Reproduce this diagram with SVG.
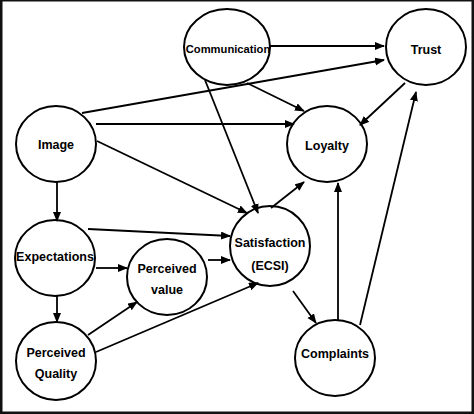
<svg xmlns="http://www.w3.org/2000/svg" width="474" height="414" viewBox="0 0 474 414">
<style>
.n{fill:#fff;stroke:#000;stroke-width:2}
.t{font-family:"Liberation Sans",Arial,sans-serif;font-weight:bold;font-size:12.5px;fill:#000;text-anchor:middle}
.c line{stroke:#000;stroke-width:1.8;marker-end:url(#ah)}
</style>
<defs>
<marker id="ah" markerUnits="userSpaceOnUse" markerWidth="11" markerHeight="9" refX="9" refY="4" orient="auto">
<path d="M0,0 L10,4 L0,8 z" fill="#000"/>
</marker>
</defs>
<rect x="0" y="0" width="474" height="414" fill="#111"/>
<rect x="2.5" y="1.5" width="469" height="410" fill="#fff"/>
<g id="nodes">
<g id="communication"><ellipse class="n" cx="227" cy="47" rx="43" ry="38"/><text class="t" x="228" y="53" style="font-size:11.2px">Communication</text></g>
<g id="trust"><ellipse class="n" cx="426" cy="47" rx="40" ry="38"/><text class="t" x="426" y="54">Trust</text></g>
<g id="image"><ellipse class="n" cx="56" cy="144" rx="40" ry="38"/><text class="t" x="56" y="149">Image</text></g>
<g id="loyalty"><ellipse class="n" cx="327" cy="144" rx="40" ry="38"/><text class="t" x="327" y="150">Loyalty</text></g>
<g id="expectations"><ellipse class="n" cx="55" cy="258" rx="40" ry="38"/><text class="t" x="55" y="261">Expectations</text></g>
<g id="perceived-value"><ellipse class="n" cx="167" cy="277" rx="40" ry="38"/><text class="t" x="167" y="273">Perceived</text><text class="t" x="167" y="294">value</text></g>
<g id="perceived-quality"><ellipse class="n" cx="56" cy="361" rx="40" ry="39"/><text class="t" x="56" y="357">Perceived</text><text class="t" x="56" y="378">Quality</text></g>
<g id="satisfaction"><ellipse class="n" cx="270" cy="246" rx="40" ry="40"/><text class="t" x="270" y="247">Satisfaction</text><text class="t" x="270" y="270">(ECSI)</text></g>
<g id="complaints"><ellipse class="n" cx="335" cy="358" rx="40" ry="38"/><text class="t" x="335" y="358">Complaints</text></g>
</g>
<g class="c" id="connectors">
<line x1="270" y1="46" x2="384" y2="46"/>
<line x1="82" y1="113" x2="384" y2="60"/>
<line x1="247" y1="83" x2="304" y2="111"/>
<line x1="96" y1="124" x2="294" y2="124"/>
<line x1="405" y1="83" x2="360" y2="125"/>
<line x1="205" y1="80" x2="258" y2="213"/>
<line x1="97" y1="141" x2="247" y2="213"/>
<line x1="271" y1="208" x2="304" y2="182"/>
<line x1="57" y1="182" x2="57" y2="221"/>
<line x1="88" y1="229" x2="230" y2="236"/>
<line x1="96" y1="268" x2="127" y2="268"/>
<line x1="208" y1="260" x2="230" y2="260"/>
<line x1="57" y1="296" x2="57" y2="322"/>
<line x1="88" y1="335" x2="137" y2="302"/>
<line x1="96" y1="352" x2="258" y2="283"/>
<line x1="293" y1="291" x2="316" y2="323"/>
<line x1="338" y1="320" x2="338" y2="183"/>
<line x1="360" y1="325" x2="416" y2="92"/>
</g>
</svg>
